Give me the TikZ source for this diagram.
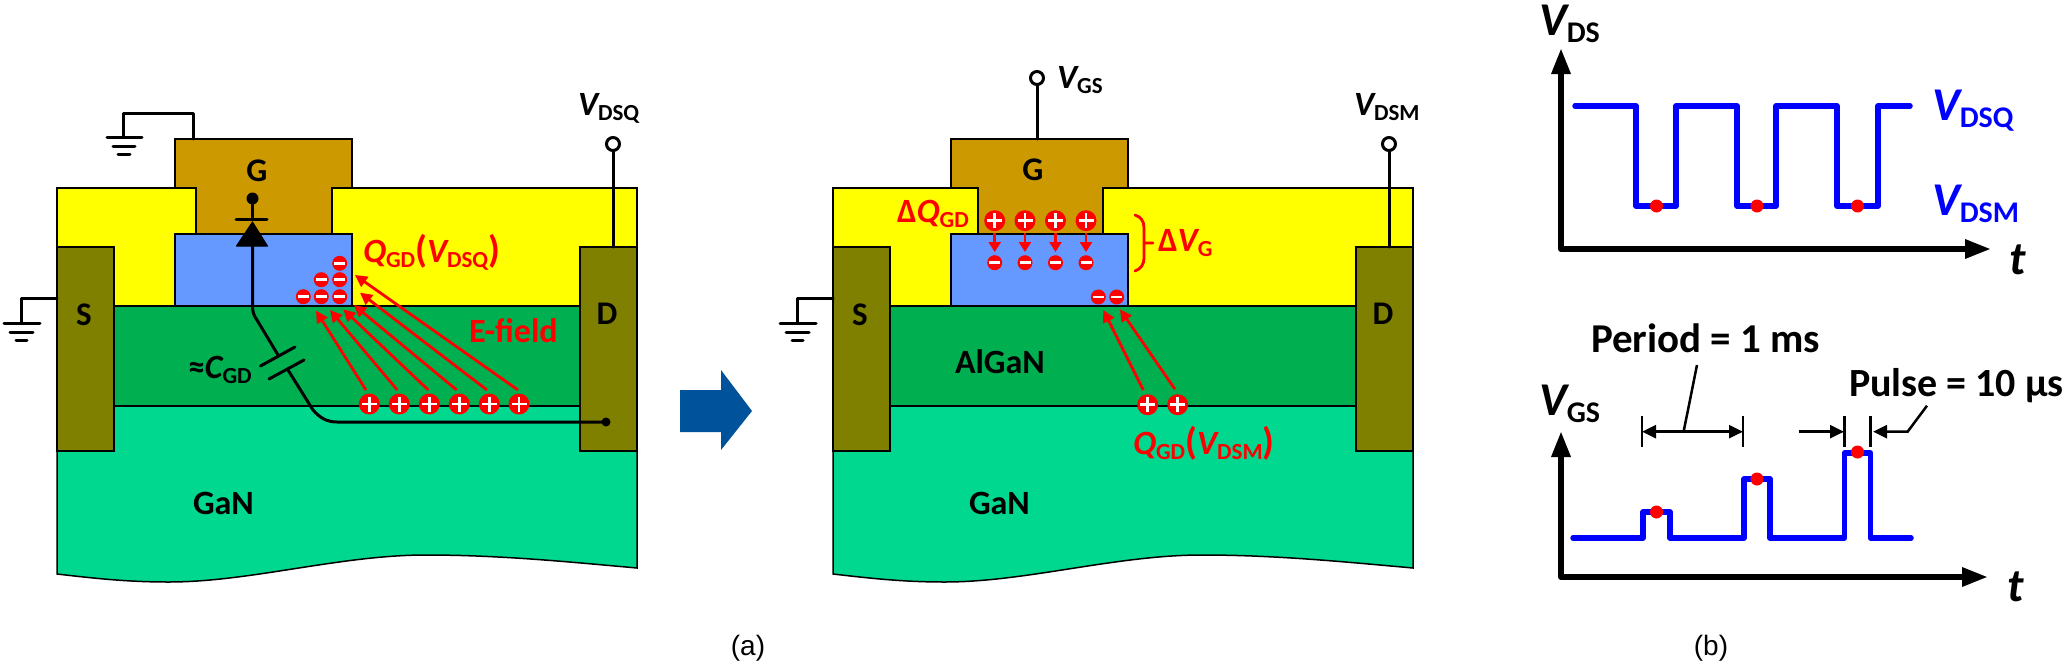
\documentclass[tikz,border=0pt]{standalone}
\usepackage{fontspec}
\setmainfont{Carlito}
\newfontfamily\arialfont{Liberation Sans}
\usetikzlibrary{arrows.meta}
\definecolor{cYellow}{HTML}{FFFF00}
\definecolor{cGate}{HTML}{CC9900}
\definecolor{cBlue}{HTML}{6699FF}
\definecolor{cAlGaN}{HTML}{00B050}
\definecolor{cGaN}{HTML}{00D78F}
\definecolor{cMetal}{HTML}{808000}
\definecolor{cBigArrow}{HTML}{00529B}
\definecolor{cWave}{HTML}{0000FF}
\newcommand\itsub[4]{{\fontsize{#3}{#3}\selectfont\itshape #1}\raisebox{\dimexpr-#3pt*15/100\relax}{\fontsize{#4}{#4}\selectfont #2}}
\tikzset{
  x=1pt,y=-1pt,
  layer/.style={draw=black,line width=1.5pt,line join=miter},
  wire/.style={draw=black,line width=3pt,line cap=round,line join=round},
  lab/.style={inner sep=0pt,outer sep=0pt,anchor=base west,font=\bfseries\fontsize{34}{34}\selectfont,text=black},
  clab/.style={inner sep=0pt,outer sep=0pt,anchor=center,font=\bfseries\fontsize{33}{33}\selectfont,text=black},
  redlab/.style={lab,text=red},
  biglab/.style={lab,font=\bfseries\fontsize{47}{47}\selectfont},
  bluelab/.style={biglab,text=cWave},
  annot/.style={inner sep=0pt,outer sep=0pt,anchor=base west,font=\bfseries\fontsize{40}{40}\selectfont,text=black},
  plusq/.style={circle,fill=red,draw=none,minimum size=21pt,inner sep=0pt,outer sep=0pt,
    path picture={\draw[white,line width=2.6pt]
      ([xshift=-7.5pt]path picture bounding box.center)--([xshift=7.5pt]path picture bounding box.center)
      ([yshift=-7.5pt]path picture bounding box.center)--([yshift=7.5pt]path picture bounding box.center);}},
  minusq/.style={circle,fill=red,draw=none,minimum size=15pt,inner sep=0pt,outer sep=0pt,
    path picture={\draw[white,line width=2.6pt]
      ([xshift=-5.5pt]path picture bounding box.center)--([xshift=5.5pt]path picture bounding box.center);}},
  redarr/.style={draw=red,line width=2.8pt,-{Triangle[length=12pt,width=12pt]}},
  termo/.style={circle,draw=black,fill=white,line width=3pt,minimum size=13pt,inner sep=0pt,outer sep=0pt},
  blackdot/.style={circle,fill=black,draw=none,inner sep=0pt,outer sep=0pt},
  reddot/.style={circle,fill=red,draw=none,minimum size=13pt,inner sep=0pt,outer sep=0pt},
  wave/.style={draw=cWave,line width=5.5pt,line cap=round,line join=round},
  axisline/.style={draw=black,line width=6pt,line join=round,{Triangle[length=26pt,width=18pt]}-{Triangle[length=26pt,width=18pt]}},
  dim/.style={draw=black,line width=2.5pt},
  dimarr/.style={dim,-{Triangle[length=14pt,width=13pt]}},
  dimarrb/.style={dim,{Triangle[length=14pt,width=13pt]}-{Triangle[length=14pt,width=13pt]}},
}
% device cross-section: #1 x offset, #2/#3 gate stem edges
\newcommand\devbody[3]{%
  \begin{scope}[xshift=#1pt]
    \fill[cGaN,draw=black,line width=1.5pt] (57,406) -- (57,574) .. controls (100,579) and (130,582) .. (169,582)
       .. controls (250,582) and (340,555) .. (426,555) .. controls (500,555) and (570,562) .. (637,568) -- (637,406) -- cycle;
    \path[layer,fill=cAlGaN] (57,306) rectangle (637,406);
    \path[layer,fill=cYellow] (57,188) rectangle (637,306);
    \path[layer,fill=cGate] (175,139) -- (352,139) -- (352,188) -- (#3,188) -- (#3,234) -- (#2,234) -- (#2,188) -- (175,188) -- cycle;
    \path[layer,fill=cBlue] (175,234) rectangle (352,306);
    \path[layer,fill=cMetal] (57,247) rectangle (114,451);
    \path[layer,fill=cMetal] (580,247) rectangle (637,451);
    % source ground
    \draw[wire] (57,298) -- (21,298) -- (21,323);
    \draw[wire] (4,323) -- (40,323) (10,332) -- (33,332) (16,340) -- (27,340);
  \end{scope}}
\begin{document}
\begin{tikzpicture}
\useasboundingbox (0,0) rectangle (2070,664);
\fill[white] (0,0) rectangle (2070,664);

% ---------- left device
\devbody{0}{196}{332}
\node[clab] (gl) at (257,171) {G};
\node[clab] (sl) at (84,315) {S};
\node[clab] (dl) at (607,314) {D};
\node[lab] (ganl) at (193,514) {GaN};
% gate ground
\coordinate (gtl) at (193,139);
\draw[wire] (gtl) -- (193,113) -- (123.5,113) -- (123.5,137);
\draw[wire] (107,137.5) -- (142,137.5) (113,146) -- (135,146) (118,154.5) -- (130,154.5);
% drain terminal
\node[termo] (tdl) at (613,144) {};
\coordinate (dtl) at (613,247);
\draw[wire] (tdl) -- (dtl);
\node[lab] (vdsq) at (578,115) {\itsub{V}{DSQ}{34}{23}};
% diode + capacitor wire
\node[blackdot,minimum size=12pt] (dda) at (252.5,198.5) {};
\draw[wire] (dda) -- (252.5,220);
\draw[wire] (236,219.5) -- (267,219.5);
\fill[black,line join=round,draw=black,line width=1pt] (252.5,222) -- (267.5,246) -- (236.5,246) -- cycle;
\coordinate (capa) at (278,355);
\coordinate (capb) at (288,370);
\draw[wire] (252.5,246) -- (252.5,306) .. controls (252.5,312) and (254,316) .. (257,320) -- (capa);
\draw[wire] (260.5,366) -- (295,347) (269,379) -- (304,360);
\node[blackdot,minimum size=9pt] (ddot) at (606,422) {};
\draw[wire] (capb) -- (313,410) .. controls (320,418) and (327,422) .. (337,422) -- (ddot);
\node[lab] (cgd) at (188,378) {≈\itsub{C}{GD}{34}{23}};
% charges left
\foreach \i/\x in {1/369.3,2/399.3,3/429.3,4/459.3,5/489.3,6/519} \node[plusq] (pa\i) at (\x,404) {};
\node[minusq] (ma1) at (339.7,263.3) {};
\node[minusq] (ma2) at (321.3,279.7) {};
\node[minusq] (ma3) at (339.7,279.7) {};
\node[minusq] (ma4) at (303.3,296.7) {};
\node[minusq] (ma5) at (321.3,296.7) {};
\node[minusq] (ma6) at (339.7,296.7) {};
\foreach \i/\sx/\tx/\ty in {1/366/316/310.7,2/397.3/330/310,3/428.3/343.3/309.3,4/456.7/354/305,5/487/360/292.7,6/518/355/275}{
  \coordinate (sa\i) at (\sx,390);
  \coordinate (ta\i) at (\tx,\ty);
  \draw[redarr] (sa\i) -- (ta\i);
}
\node[redlab] (qa) at (363,262) {\itsub{Q}{GD}{34}{23}{\fontsize{38}{38}\selectfont(}\itsub{V}{DSQ}{34}{23}{\fontsize{38}{38}\selectfont)}};
\node[redlab] (ef) at (469,342.7) {E-field};

% ---------- big arrow
\fill[cBigArrow] (680,390) -- (721,390) -- (721,370) -- (752,411) -- (721,450) -- (721,432) -- (680,432) -- cycle;

% ---------- right device
\devbody{776}{202}{327}
\node[clab] (gr) at (1033,170) {G};
\node[clab] (sr) at (860,315) {S};
\node[clab] (dr) at (1383,314) {D};
\node[lab] (ganr) at (969,514) {GaN};
\node[lab] (alg) at (955,373) {AlGaN};
\node[termo] (tgr) at (1037,78) {};
\coordinate (gtr) at (1037,139);
\draw[wire] (tgr) -- (gtr);
\node[lab] (vgs) at (1057,88) {\itsub{V}{GS}{34}{23}};
\node[termo] (tdr) at (1389,144) {};
\coordinate (dtr) at (1389,247);
\draw[wire] (tdr) -- (dtr);
\node[lab] (vdsm) at (1354,115) {\itsub{V}{DSM}{34}{23}};
% charges right
\foreach \i/\x in {1/994.7,2/1025,3/1055.5,4/1086}{
  \node[plusq] (pg\i) at (\x,220.7) {};
  \node[minusq] (mg\i) at (\x,262.7) {};
  \coordinate (sg\i) at (\x,233);
  \coordinate (tg\i) at (\x,252);
  \draw[draw=red,line width=2.8pt,-{Triangle[length=10pt,width=12pt]}] (sg\i) -- (tg\i);
}
\node[minusq] (mb1) at (1098.3,297) {};
\node[minusq] (mb2) at (1116.7,297) {};
\node[plusq] (pb1) at (1147.7,404.7) {};
\node[plusq] (pb2) at (1177.7,404.7) {};
\coordinate (sb1) at (1143.3,390); \coordinate (tb1) at (1103.3,310);
\coordinate (sb2) at (1175,389.3); \coordinate (tb2) at (1120,309.3);
\draw[redarr] (sb1) -- (tb1);
\draw[redarr] (sb2) -- (tb2);
\node[redlab] (dq) at (897,222.7) {Δ\itsub{Q}{GD}{34}{23}};
\node[redlab] (dv) at (1158,251.7) {Δ\itsub{V}{G}{34}{23}};
\node[redlab] (qb) at (1133,454) {\itsub{Q}{GD}{34}{23}{\fontsize{38}{38}\selectfont(}\itsub{V}{DSM}{34}{23}{\fontsize{38}{38}\selectfont)}};
% brace
\draw[draw=red,line width=2.8pt,line cap=round] (1135,215) .. controls (1141,217) and (1144,221) .. (1144,228) -- (1144,258) .. controls (1144,264) and (1141,269) .. (1135,271) (1144,243) -- (1153,243);

% ---------- (a), (b)
\node[inner sep=0pt,font=\arialfont\fontsize{28}{28}\selectfont] (capa2) at (748,648) {(a)};
\node[inner sep=0pt,font=\arialfont\fontsize{28}{28}\selectfont] (capb2) at (1711,648) {(b)};

% ---------- top waveform
\coordinate (ay1) at (1561,48);
\coordinate (ac1) at (1561,249);
\coordinate (ax1) at (1991,249);
\draw[axisline] (ay1) -- (ac1) -- (ax1);
\draw[wave] (1575,106) -- (1636,106) -- (1636,206) -- (1676,206) -- (1676,106) -- (1737,106) -- (1737,206) -- (1776,206) -- (1776,106) -- (1837,106) -- (1837,206) -- (1878,206) -- (1878,106) -- (1910,106);
\node[reddot] (rd1) at (1656.5,206) {};
\node[reddot] (rd2) at (1757,206) {};
\node[reddot] (rd3) at (1857.5,206) {};
\node[biglab] (vds) at (1539,35) {\itsub{V}{DS}{47}{30}};
\node[biglab] (t1) at (2009,274) {\itshape t};
\node[bluelab] (v1) at (1932,120.7) {\itsub{V}{DSQ}{47}{30}};
\node[bluelab] (v2) at (1932,215) {\itsub{V}{DSM}{47}{30}};

% ---------- bottom waveform
\coordinate (ay2) at (1561,431);
\coordinate (ac2) at (1561,577);
\coordinate (ax2) at (1988,577);
\draw[axisline] (ay2) -- (ac2) -- (ax2);
\draw[wave] (1573,538) -- (1643,538) -- (1643,512) -- (1670,512) -- (1670,538) -- (1744,538) -- (1744,479) -- (1770,479) -- (1770,538) -- (1844.5,538) -- (1844.5,453) -- (1870.5,453) -- (1870.5,538) -- (1911,538);
\node[reddot] (re1) at (1656.5,512) {};
\node[reddot] (re2) at (1757,479) {};
\node[reddot] (re3) at (1857.5,452) {};
\node[biglab] (vgs2) at (1539,415) {\itsub{V}{GS}{47}{30}};
\node[biglab] (t2) at (2007,601) {\itshape t};
% dimension marks
\coordinate (pa) at (1642,431.7); \coordinate (pb) at (1743,431.7);
\coordinate (pl) at (1683.6,431.7); \coordinate (pu) at (1697,365);
\draw[dim] (1642,416) -- (1642,447) (1743,416) -- (1743,447);
\draw[dimarrb] (pa) -- (pb);
\draw[dim] (pl) -- (pu);
\node[annot,font=\bfseries\fontsize{41}{41}\selectfont] (perl) at (1591,352.7) {Period = 1 ms};
\coordinate (qa1) at (1798.5,431.7); \coordinate (qa2) at (1844,431.7);
\coordinate (qb1) at (1927,405.7); \coordinate (qb2) at (1873,431.7);
\draw[dim] (1844.5,416) -- (1844.5,447) (1870.5,416) -- (1870.5,447);
\draw[dimarr] (qa1) -- (qa2);
\draw[dimarr] (qb1) -- (1907.6,431.7) -- (qb2);
\node[annot] (pull) at (1849,396) {Pulse = 10 µs};
\end{tikzpicture}
\end{document}
